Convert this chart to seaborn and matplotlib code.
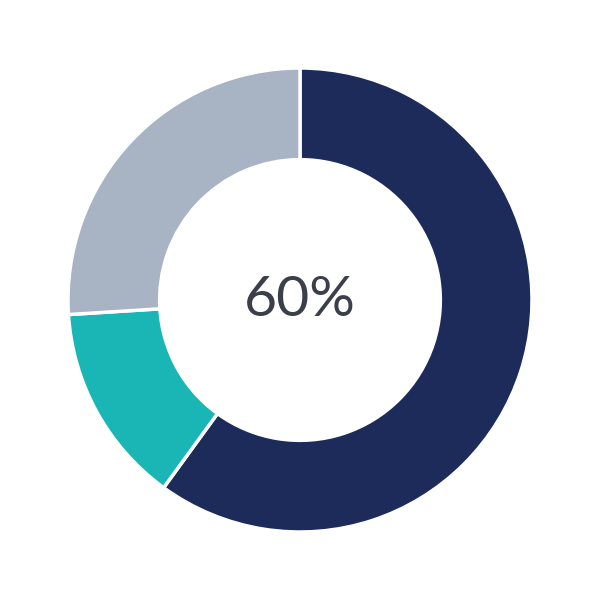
import matplotlib
matplotlib.use('Agg')
import matplotlib.pyplot as plt
import seaborn as sns

sns.set_theme(style='white')
plt.rcParams['font.family'] = ['Lato', 'DejaVu Sans']

# --- 数据 ---
segments = ['main', 'teal', 'gray']
shares = [60, 14, 26]
colors = ['#1c2b5a', '#1ab5b5', '#a8b3c4']
center_label = '60%'

fig = plt.figure(figsize=(6, 6), dpi=100)
ax = fig.add_axes([0, 0, 1, 1])

ax.pie(shares, colors=colors, startangle=90, counterclock=False,
       radius=1.0,
       wedgeprops=dict(width=0.395, edgecolor='white', linewidth=2.5))

ax.text(0, 0, center_label, ha='center', va='center',
        fontsize=41, color='#3b3f4a', fontweight='normal')

lim = 300 / 232
ax.set_xlim(-lim, lim)
ax.set_ylim(-lim, lim)
ax.set_aspect('equal')
ax.axis('off')

plt.savefig('out.png', dpi=100, facecolor='white')
